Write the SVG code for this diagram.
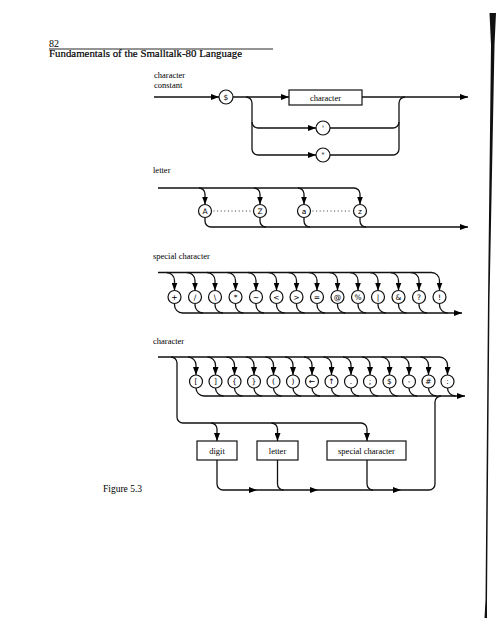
<svg xmlns="http://www.w3.org/2000/svg" width="500" height="623" viewBox="0 0 500 623">
<style>
.ln{fill:none;stroke:#111;stroke-width:1.3}
.ar{marker-end:url(#ah)}
.nd circle{fill:#fff;stroke:#111;stroke-width:1.2}
.nd rect{fill:#fff;stroke:#111;stroke-width:1.2}
.sym{font-family:"DejaVu Sans",sans-serif;font-size:7.5px;text-anchor:middle;fill:#000}
.lbl{font-family:"Liberation Serif",serif;font-size:8.5px;fill:#000}
.bx{font-family:"Liberation Serif",serif;font-size:8.5px;fill:#000;text-anchor:middle}
.dot{fill:none;stroke:#222;stroke-width:0.9;stroke-dasharray:1 2.6}
</style>
<defs>
<marker id="ah" markerUnits="userSpaceOnUse" markerWidth="8" markerHeight="6" refX="8" refY="3" orient="auto">
<path d="M0,0 L8,3 L0,6 z" fill="#000"/>
</marker>
</defs>
<rect width="500" height="623" fill="#fff"/>

<g id="header">
<text x="49" y="47" font-family="Liberation Serif, serif" font-size="10px" fill="#000">82</text>
<line x1="49" y1="49" x2="273" y2="49" stroke="#111" stroke-width="0.9"/>
<text x="49" y="57" font-family="Liberation Serif, serif" font-size="10.5px" fill="#000" stroke="#000" stroke-width="0.2" textLength="193" lengthAdjust="spacingAndGlyphs">Fundamentals of the Smalltalk-80 Language</text>
</g>

<g id="labels">
<text class="lbl" x="154" y="78">character</text>
<text class="lbl" x="154" y="88">constant</text>
<text class="lbl" x="153" y="173">letter</text>
<text class="lbl" x="153" y="259">special character</text>
<text class="lbl" x="153" y="344">character</text>
<text x="103" y="492" font-family="Liberation Serif, serif" font-size="9.5px" fill="#000">Figure 5.3</text>
</g>

<g id="connectors">
<path class="ln ar" d="M154,97 H219"/>
<path class="ln ar" d="M233,97 H289"/>
<path class="ln ar" d="M362,97 H468"/>
<path class="ln" d="M246,97 A6,6 0 0 1 252,103 V149 A6,6 0 0 0 258,155"/>
<path class="ln ar" d="M258,155 H316"/>
<path class="ln ar" d="M252,122 A6,6 0 0 0 258,128 H316"/>
<path class="ln" d="M330,128 H393 A6,6 0 0 0 399,122"/>
<path class="ln" d="M330,155 H393 A6,6 0 0 0 399,149 V103 A6,6 0 0 1 405,97"/>

<path class="ln ar" d="M158,188 H354 A6,6 0 0 1 360,194 V204.5"/>
<path class="ln ar" d="M199,188 A6,6 0 0 1 205,194 V204.5"/>
<path class="ln ar" d="M254,188 A6,6 0 0 1 260,194 V204.5"/>
<path class="ln ar" d="M298,188 A6,6 0 0 1 304,194 V204.5"/>
<path class="ln ar" d="M205,217.5 V221 A6,6 0 0 0 211,227 H468"/>
<path class="ln" d="M260,217.5 V221 A6,6 0 0 0 266,227"/>
<path class="ln" d="M304,217.5 V221 A6,6 0 0 0 310,227"/>
<path class="ln" d="M360,217.5 V221 A6,6 0 0 0 366,227"/>
<path class="dot" d="M213.5,211 H252"/>
<path class="dot" d="M312.5,211 H352"/>

<path class="ln ar" d="M158,272.5 H431.5 A8,8 0 0 1 439.5,280.5 V290.5"/>
<path class="ln ar" d="M166.5,272.5 A8,8 0 0 1 174.5,280.5 V290.5"/>
<path class="ln ar" d="M187,272.5 A8,8 0 0 1 195,280.5 V290.5"/>
<path class="ln ar" d="M207,272.5 A8,8 0 0 1 215,280.5 V290.5"/>
<path class="ln ar" d="M227.5,272.5 A8,8 0 0 1 235.5,280.5 V290.5"/>
<path class="ln ar" d="M248,272.5 A8,8 0 0 1 256,280.5 V290.5"/>
<path class="ln ar" d="M268.5,272.5 A8,8 0 0 1 276.5,280.5 V290.5"/>
<path class="ln ar" d="M288.5,272.5 A8,8 0 0 1 296.5,280.5 V290.5"/>
<path class="ln ar" d="M309,272.5 A8,8 0 0 1 317,280.5 V290.5"/>
<path class="ln ar" d="M329.5,272.5 A8,8 0 0 1 337.5,280.5 V290.5"/>
<path class="ln ar" d="M350,272.5 A8,8 0 0 1 358,280.5 V290.5"/>
<path class="ln ar" d="M370,272.5 A8,8 0 0 1 378,280.5 V290.5"/>
<path class="ln ar" d="M390.5,272.5 A8,8 0 0 1 398.5,280.5 V290.5"/>
<path class="ln ar" d="M411,272.5 A8,8 0 0 1 419,280.5 V290.5"/>
<path class="ln ar" d="M174.5,303.5 V305 A8,8 0 0 0 182.5,313 H462"/>
<path class="ln" d="M195,303.5 V305 A8,8 0 0 0 203,313"/>
<path class="ln" d="M215,303.5 V305 A8,8 0 0 0 223,313"/>
<path class="ln" d="M235.5,303.5 V305 A8,8 0 0 0 243.5,313"/>
<path class="ln" d="M256,303.5 V305 A8,8 0 0 0 264,313"/>
<path class="ln" d="M276.5,303.5 V305 A8,8 0 0 0 284.5,313"/>
<path class="ln" d="M296.5,303.5 V305 A8,8 0 0 0 304.5,313"/>
<path class="ln" d="M317,303.5 V305 A8,8 0 0 0 325,313"/>
<path class="ln" d="M337.5,303.5 V305 A8,8 0 0 0 345.5,313"/>
<path class="ln" d="M358,303.5 V305 A8,8 0 0 0 366,313"/>
<path class="ln" d="M378,303.5 V305 A8,8 0 0 0 386,313"/>
<path class="ln" d="M398.5,303.5 V305 A8,8 0 0 0 406.5,313"/>
<path class="ln" d="M419,303.5 V305 A8,8 0 0 0 427,313"/>
<path class="ln" d="M439.5,303.5 V305 A8,8 0 0 0 447.5,313"/>

<path class="ln ar" d="M158,357 H439.5 A8,8 0 0 1 447.5,365 V375"/>
<path class="ln ar" d="M188,357 A8,8 0 0 1 196,365 V375"/>
<path class="ln ar" d="M207.5,357 A8,8 0 0 1 215.5,365 V375"/>
<path class="ln ar" d="M226.5,357 A8,8 0 0 1 234.5,365 V375"/>
<path class="ln ar" d="M246,357 A8,8 0 0 1 254,365 V375"/>
<path class="ln ar" d="M265.5,357 A8,8 0 0 1 273.5,365 V375"/>
<path class="ln ar" d="M285,357 A8,8 0 0 1 293,365 V375"/>
<path class="ln ar" d="M304,357 A8,8 0 0 1 312,365 V375"/>
<path class="ln ar" d="M323.5,357 A8,8 0 0 1 331.5,365 V375"/>
<path class="ln ar" d="M343,357 A8,8 0 0 1 351,365 V375"/>
<path class="ln ar" d="M362,357 A8,8 0 0 1 370,365 V375"/>
<path class="ln ar" d="M381.5,357 A8,8 0 0 1 389.5,365 V375"/>
<path class="ln ar" d="M401,357 A8,8 0 0 1 409,365 V375"/>
<path class="ln ar" d="M420.5,357 A8,8 0 0 1 428.5,365 V375"/>
<path class="ln ar" d="M196,388 A8,8 0 0 0 204,396 H465"/>
<path class="ln" d="M215.5,388 A8,8 0 0 0 223.5,396"/>
<path class="ln" d="M234.5,388 A8,8 0 0 0 242.5,396"/>
<path class="ln" d="M254,388 A8,8 0 0 0 262,396"/>
<path class="ln" d="M273.5,388 A8,8 0 0 0 281.5,396"/>
<path class="ln" d="M293,388 A8,8 0 0 0 301,396"/>
<path class="ln" d="M312,388 A8,8 0 0 0 320,396"/>
<path class="ln" d="M331.5,388 A8,8 0 0 0 339.5,396"/>
<path class="ln" d="M351,388 A8,8 0 0 0 359,396"/>
<path class="ln" d="M370,388 A8,8 0 0 0 378,396"/>
<path class="ln" d="M389.5,388 A8,8 0 0 0 397.5,396"/>
<path class="ln" d="M409,388 A8,8 0 0 0 417,396"/>
<path class="ln" d="M428.5,388 A8,8 0 0 0 436.5,396"/>
<path class="ln" d="M447.5,388 A8,8 0 0 0 455.5,396"/>
<path class="ln ar" d="M171,357 A6,6 0 0 1 177,363 V417 A6,6 0 0 0 183,423 H361 A6,6 0 0 1 367,429 V441"/>
<path class="ln ar" d="M211,423 A6,6 0 0 1 217,429 V441"/>
<path class="ln ar" d="M271.5,423 A6,6 0 0 1 277.5,429 V441"/>
<path class="ln ar" d="M217,460 V484 A6,6 0 0 0 223,490 H257"/>
<path class="ln ar" d="M257,490 H318"/>
<path class="ln ar" d="M318,490 H401"/>
<path class="ln" d="M401,490 H429 A6,6 0 0 0 435,484 V402 A6,6 0 0 1 441,396"/>
<path class="ln" d="M277.5,460 V484 A6,6 0 0 0 283.5,490"/>
<path class="ln" d="M367,460 V484 A6,6 0 0 0 373,490"/>
</g>

<g id="cc-dollar" class="nd"><circle cx="226" cy="97" r="7"/><text class="sym" x="226" y="99.7">$</text></g>
<g id="cc-character" class="nd"><rect x="289" y="90" width="73" height="15"/><text class="bx" x="325.5" y="100.5">character</text></g>
<g id="cc-quote" class="nd"><circle cx="323" cy="128" r="7"/><text class="sym" x="323" y="130.7">'</text></g>
<g id="cc-dquote" class="nd"><circle cx="323" cy="155" r="7"/><text class="sym" x="323" y="157.7">"</text></g>

<g id="l-A" class="nd"><circle cx="205" cy="211" r="6.5"/><text class="sym" x="205" y="213.7">A</text></g>
<g id="l-Z" class="nd"><circle cx="260" cy="211" r="6.5"/><text class="sym" x="260" y="213.7">Z</text></g>
<g id="l-a" class="nd"><circle cx="304" cy="211" r="6.5"/><text class="sym" x="304" y="213.7">a</text></g>
<g id="l-z" class="nd"><circle cx="360" cy="211" r="6.5"/><text class="sym" x="360" y="213.7">z</text></g>

<g id="sc-plus" class="nd"><circle cx="174.5" cy="297" r="6.5"/><text class="sym" x="174.5" y="299.7">+</text></g>
<g id="sc-slash" class="nd"><circle cx="195" cy="297" r="6.5"/><text class="sym" x="195" y="299.7">/</text></g>
<g id="sc-bslash" class="nd"><circle cx="215" cy="297" r="6.5"/><text class="sym" x="215" y="299.7">\</text></g>
<g id="sc-star" class="nd"><circle cx="235.5" cy="297" r="6.5"/><text class="sym" x="235.5" y="300.2">*</text></g>
<g id="sc-tilde" class="nd"><circle cx="256" cy="297" r="6.5"/><text class="sym" x="256" y="299.7">~</text></g>
<g id="sc-lt" class="nd"><circle cx="276.5" cy="297" r="6.5"/><text class="sym" x="276.5" y="299.7">&lt;</text></g>
<g id="sc-gt" class="nd"><circle cx="296.5" cy="297" r="6.5"/><text class="sym" x="296.5" y="299.7">&gt;</text></g>
<g id="sc-eq" class="nd"><circle cx="317" cy="297" r="6.5"/><text class="sym" x="317" y="299.7">=</text></g>
<g id="sc-at" class="nd"><circle cx="337.5" cy="297" r="6.5"/><text class="sym" x="337.5" y="299.7">@</text></g>
<g id="sc-pct" class="nd"><circle cx="358" cy="297" r="6.5"/><text class="sym" x="358" y="299.7">%</text></g>
<g id="sc-bar" class="nd"><circle cx="378" cy="297" r="6.5"/><text class="sym" x="378" y="299.7">|</text></g>
<g id="sc-amp" class="nd"><circle cx="398.5" cy="297" r="6.5"/><text class="sym" x="398.5" y="299.7">&amp;</text></g>
<g id="sc-q" class="nd"><circle cx="419" cy="297" r="6.5"/><text class="sym" x="419" y="299.7">?</text></g>
<g id="sc-excl" class="nd"><circle cx="439.5" cy="297" r="6.5"/><text class="sym" x="439.5" y="299.7">!</text></g>

<g id="ch-lbrack" class="nd"><circle cx="196" cy="381.5" r="6.5"/><text class="sym" x="196" y="384.2">[</text></g>
<g id="ch-rbrack" class="nd"><circle cx="215.5" cy="381.5" r="6.5"/><text class="sym" x="215.5" y="384.2">]</text></g>
<g id="ch-lbrace" class="nd"><circle cx="234.5" cy="381.5" r="6.5"/><text class="sym" x="234.5" y="384.2">{</text></g>
<g id="ch-rbrace" class="nd"><circle cx="254" cy="381.5" r="6.5"/><text class="sym" x="254" y="384.2">}</text></g>
<g id="ch-lparen" class="nd"><circle cx="273.5" cy="381.5" r="6.5"/><text class="sym" x="273.5" y="384.2">(</text></g>
<g id="ch-rparen" class="nd"><circle cx="293" cy="381.5" r="6.5"/><text class="sym" x="293" y="384.2">)</text></g>
<g id="ch-assign" class="nd"><circle cx="312" cy="381.5" r="6.5"/><text class="sym" x="312" y="384.2">←</text></g>
<g id="ch-return" class="nd"><circle cx="331.5" cy="381.5" r="6.5"/><text class="sym" x="331.5" y="384.2">↑</text></g>
<g id="ch-period" class="nd"><circle cx="351" cy="381.5" r="6.5"/><text class="sym" x="351" y="384.2">.</text></g>
<g id="ch-semi" class="nd"><circle cx="370" cy="381.5" r="6.5"/><text class="sym" x="370" y="384.2">;</text></g>
<g id="ch-dollar" class="nd"><circle cx="389.5" cy="381.5" r="6.5"/><text class="sym" x="389.5" y="384.2">$</text></g>
<g id="ch-minus" class="nd"><circle cx="409" cy="381.5" r="6.5"/><text class="sym" x="409" y="384.2">-</text></g>
<g id="ch-hash" class="nd"><circle cx="428.5" cy="381.5" r="6.5"/><text class="sym" x="428.5" y="384.2">#</text></g>
<g id="ch-colon" class="nd"><circle cx="447.5" cy="381.5" r="6.5"/><text class="sym" x="447.5" y="384.2">:</text></g>

<g id="ch-digit" class="nd"><rect x="197" y="441" width="40" height="19"/><text class="bx" x="217" y="453.5">digit</text></g>
<g id="ch-letter" class="nd"><rect x="257" y="441" width="41" height="19"/><text class="bx" x="277.5" y="453.5">letter</text></g>
<g id="ch-special" class="nd"><rect x="327" y="441" width="79" height="19"/><text class="bx" x="366.5" y="453.5">special character</text></g>

<g id="scan-edge">
<polygon points="489.5,13 496,13 494.5,45 489.5,300 487,600 487,618 484.5,618 485.5,600 488,300 491,45" fill="#111"/>
</g>
</svg>
